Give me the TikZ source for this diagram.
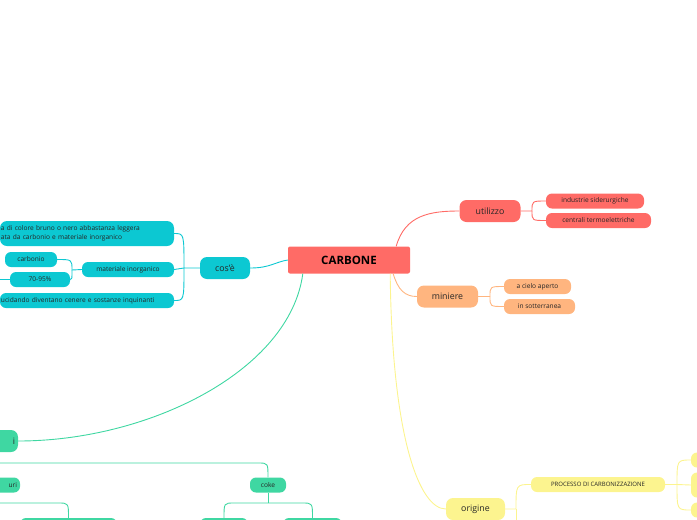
\documentclass[tikz,border=0pt]{standalone}
\usepackage{fontspec}
\setmainfont{Open Sans}
\definecolor{cred}{HTML}{FF6B66}
\definecolor{cora}{HTML}{FFB57F}
\definecolor{cyel}{HTML}{FCF48F}
\definecolor{ccya}{HTML}{0CC8D2}
\definecolor{cgrn}{HTML}{3FD7A2}
\begin{document}
\begin{tikzpicture}[x=1pt,y=-1pt,
  box/.style={rounded corners=7pt,inner sep=0pt,align=center,text=black!85},
  big/.style={box,font=\fontsize{8.8}{10}\selectfont,minimum height=22pt},
  sm/.style={box,rounded corners=6pt,font=\fontsize{6.6}{7.5}\selectfont,minimum height=15pt},
  ln/.style={line width=0.9pt}]
\useasboundingbox (0,0) rectangle (697,520);
\clip (0,0) rectangle (697,520);
% nodes
\node[fill=cred,rounded corners=2pt,minimum width=122pt,minimum height=27pt,font=\fontsize{11.5}{13}\selectfont\bfseries,text=black] (c) at (349,260) {CARBONE};
\node[big,fill=cred,minimum width=61pt] (u) at (490,211) {utilizzo};
\node[sm,fill=cred,minimum width=98pt] (u1) at (595,201) {industrie siderurgiche};
\node[sm,fill=cred,minimum width=105pt] (u2) at (598.5,220.5) {centrali termoelettriche};
\node[big,fill=cora,minimum width=61pt] (m) at (447.5,296.5) {miniere};
\node[sm,fill=cora,minimum width=67pt] (m1) at (537.5,286.5) {a cielo aperto};
\node[sm,fill=cora,minimum width=71pt] (m2) at (539.5,306.5) {in sotterranea};
\node[big,fill=cyel,minimum width=59pt] (o) at (475.5,509) {origine};
\node[sm,fill=cyel,minimum width=134pt,font=\fontsize{6}{7}\selectfont] (p) at (598,484.5) {PROCESSO DI CARBONIZZAZIONE};
\node[sm,fill=cyel,minimum width=30pt] (p1) at (706,460) {};
\node[sm,fill=cyel,minimum width=30pt,minimum height=25pt] (p2) at (706,485) {};
\node[sm,fill=cyel,minimum width=30pt] (p3) at (706,510) {};
\node[big,fill=ccya,minimum width=50pt] (k) at (225,268) {cos'è};
\node[box,fill=ccya,minimum width=174pt,minimum height=25pt,font=\fontsize{6.6}{9}\selectfont,align=left,text width=172pt] (d) at (87,233.5) {a di colore bruno o nero abbastanza leggera\\ata da carbonio e materiale inorganico};
\node[sm,fill=ccya,minimum width=92pt] (mi) at (128,269.5) {materiale inorganico};
\node[sm,fill=ccya,minimum width=52pt] (ca) at (31,259.5) {carbonio};
\node[sm,fill=ccya,minimum width=60pt] (pc) at (40,279.5) {70-95\%};
\node[sm,fill=ccya,minimum width=174pt,align=left,text width=172pt] (b) at (87,300.5) {ucidando diventano cenere e sostanze inquinanti};
\node[big,fill=cgrn,minimum width=50pt,align=right,text width=44pt] (t) at (-7,441) {i};
\node[sm,fill=cgrn,minimum width=50pt,align=right,text width=44pt] (du) at (-5,485) {uri};
\node[sm,fill=cgrn,minimum width=36pt] (co) at (268,485) {coke};
\node[sm,fill=cgrn,minimum width=48pt] (co1) at (224,525.5) {};
\node[sm,fill=cgrn,minimum width=59pt] (co2) at (312.5,525.5) {};
\node[sm,fill=cgrn,minimum width=97pt] (du1) at (68.5,525.5) {};
% connectors
\draw[ln,cred] (c.north east)++(-14,0) coordinate (cu) .. controls (405,215) and (430,211) .. (u.west);
\draw[ln,cred] (u.east) -- (532,211) .. controls (532,201) .. (u1.west);
\draw[ln,cred] (532,211) .. controls (532,220.5) .. (u2.west);
\draw[ln,cora] (c.south east)++(-17,0) coordinate (cm) .. controls (398,290) and (405,296.5) .. (m.west);
\draw[ln,cora] (m.east) -- (490,296.5) .. controls (490,286.5) .. (m1.west);
\draw[ln,cora] (490,296.5) .. controls (490,306.5) .. (m2.west);
\draw[ln,cyel] (c.south east)++(-20,0) coordinate (co0) .. controls (392,440) and (420,509) .. (o.west);
\draw[ln,cyel] (o.east) -- (516,509) .. controls (516,484.5) .. (p.west);
\draw[ln,cyel] (516,509) -- (516,530);
\draw[ln,cyel] (p.east) -- (677,484.5) .. controls (677,460) .. (p1.west);
\draw[ln,cyel] (677,484.5) -- (p2.west);
\draw[ln,cyel] (677,484.5) .. controls (677,510) .. (p3.west);
\draw[ln,ccya] (k.east) .. controls (270,268) and (275,262) .. (c.west);
\draw[ln,ccya] (k.west) -- (184,268) .. controls (184,233.5) .. (d.east);
\draw[ln,ccya] (184,268) -- (mi.east);
\draw[ln,ccya] (184,268) .. controls (184,300.5) .. (b.east);
\draw[ln,ccya] (mi.west) -- (72,270) .. controls (72,259.5) .. (ca.east);
\draw[ln,ccya] (72,270) .. controls (72,279.5) .. (pc.east);
\draw[ln,ccya] (pc.west) -- (-5,279.5);
\draw[ln,cgrn] (c.south west)++(15,0) coordinate (cg) .. controls (290,370) and (150,441) .. (t.east);
\draw[ln,cgrn] (-5,463) -- (258,463) .. controls (268,463) .. (co.north);
\draw[ln,cgrn] (co.south) -- (268,503);
\draw[ln,cgrn] (268,503) -- (234,503) .. controls (224,503) .. (co1.north);
\draw[ln,cgrn] (268,503) -- (302,503) .. controls (312.5,503) .. (co2.north);
\draw[ln,cgrn] (-5,503) -- (58,503) .. controls (68.5,503) .. (du1.north);
\end{tikzpicture}
\end{document}
